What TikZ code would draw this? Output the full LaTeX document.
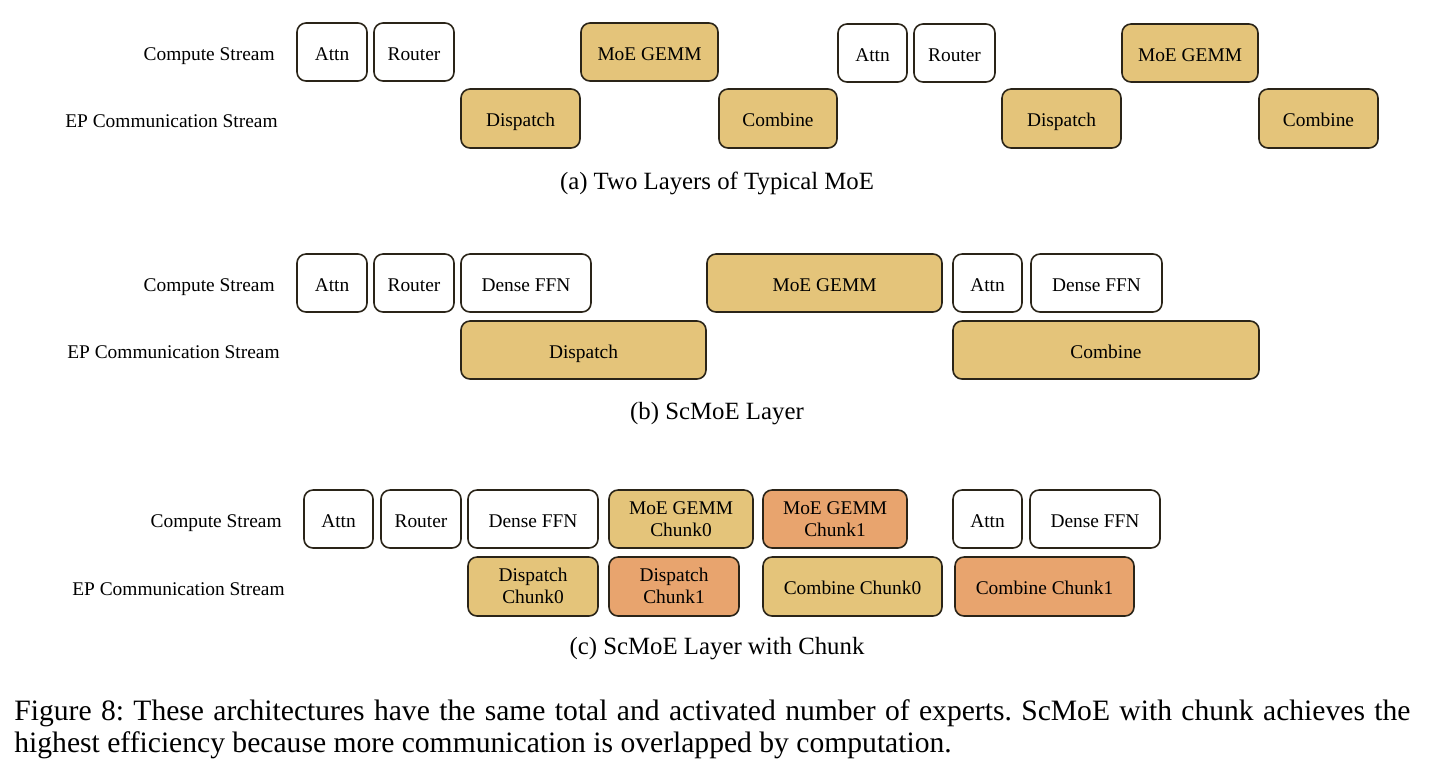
\documentclass[tikz,border=0pt]{standalone}
\usepackage{fontspec}
\setmainfont{Liberation Serif}
\definecolor{gold}{HTML}{E4C47A}
\definecolor{orng}{HTML}{E8A46E}
\definecolor{edge}{HTML}{2A2418}
\tikzset{
  boxw/.style={draw=edge, line width=0.8pt, rounded corners=4.5pt, fill=white, inner sep=0pt, align=center, font=\fontsize{9.7}{11}\selectfont, text height=8.2pt, text depth=0pt},
  boxg/.style={boxw, fill=gold},
  boxo/.style={boxw, fill=orng},
  two/.style={text height=17.2pt, text depth=0pt},
  lbl/.style={inner sep=0pt, anchor=base east, font=\fontsize{9.7}{11}\selectfont},
  subcap/.style={inner sep=0pt, anchor=base, font=\fontsize{12.4}{14}\selectfont},
  figcap/.style={inner sep=0pt, anchor=base west, font=\fontsize{14.8}{16}\selectfont}
}
\newcommand\bx[7]{\node[#6, minimum width={(#4-#2)*0.5pt}, minimum height={(#5-#3)*0.5pt}] (#1) at ({(#2+#4)/2},{(#3+#5)/2}) {#7};}
\begin{document}
\frenchspacing
\begin{tikzpicture}[x=0.5pt,y=-0.5pt]
\useasboundingbox (0,0) rectangle (1440,768);
% (a)
\node[lbl] (ac) at (275,60.5) {Compute Stream};
\node[lbl] (ae) at (278,127) {EP Communication Stream};
\bx{a1}{297}{23}{367}{81}{boxw}{Attn}
\bx{a2}{374}{23}{454}{81}{boxw}{Router}
\bx{a3}{581}{23}{718}{81}{boxg}{MoE GEMM}
\bx{a4}{838}{24}{907}{82}{boxw}{Attn}
\bx{a5}{914}{24}{995}{82}{boxw}{Router}
\bx{a6}{1122}{24}{1258}{82}{boxg}{MoE GEMM}
\bx{a7}{461}{89}{580}{148}{boxg}{Dispatch}
\bx{a8}{719}{89}{837}{148}{boxg}{Combine}
\bx{a9}{1002}{89}{1121}{148}{boxg}{Dispatch}
\bx{a10}{1259}{89}{1378}{148}{boxg}{Combine}
\node[subcap] (acap) at (717,189) {(a) Two Layers of Typical MoE};
% (b)
\node[lbl] (bc) at (275,291.5) {Compute Stream};
\node[lbl] (be) at (280,358.5) {EP Communication Stream};
\bx{b1}{297}{254}{367}{312}{boxw}{Attn}
\bx{b2}{374}{254}{454}{312}{boxw}{Router}
\bx{b3}{461}{254}{591}{312}{boxw}{Dense FFN}
\bx{b4}{707}{254}{942}{312}{boxg}{MoE GEMM}
\bx{b5}{953}{254}{1022}{312}{boxw}{Attn}
\bx{b6}{1031}{254}{1162}{312}{boxw}{Dense FFN}
\bx{b7}{461}{321}{706}{379}{boxg}{Dispatch}
\bx{b8}{953}{321}{1259}{379}{boxg}{Combine}
\node[subcap] (bcap) at (717,419) {(b) ScMoE Layer};
% (c)
\node[lbl] (cc) at (282,527.5) {Compute Stream};
\node[lbl] (ce) at (285,595) {EP Communication Stream};
\bx{c1}{304}{490}{373}{548}{boxw}{Attn}
\bx{c2}{381}{490}{461}{548}{boxw}{Router}
\bx{c3}{468}{490}{598}{548}{boxw}{Dense FFN}
\bx{c4}{609}{490}{753}{548}{boxg,two}{MoE GEMM\\Chunk0}
\bx{c5}{763}{490}{907}{548}{boxo,two}{MoE GEMM\\Chunk1}
\bx{c6}{953}{490}{1022}{548}{boxw}{Attn}
\bx{c7}{1030}{490}{1160}{548}{boxw}{Dense FFN}
\bx{c8}{468}{557}{598}{616}{boxg,two}{Dispatch\\Chunk0}
\bx{c9}{609}{557}{739}{616}{boxo,two}{Dispatch\\Chunk1}
\bx{c10}{763}{557}{942}{616}{boxg}{Combine Chunk0}
\bx{c11}{955}{557}{1134}{616}{boxo}{Combine Chunk1}
\node[subcap] (ccap) at (717,654) {(c) ScMoE Layer with Chunk};
% caption
\node[figcap] (f1) at (14,720) {\makebox[698pt][s]{Figure 8: These architectures have the same total and activated number of experts. ScMoE with chunk achieves the}};
\node[figcap] (f2) at (14,752) {highest efficiency because more communication is overlapped by computation.};
\end{tikzpicture}
\end{document}
